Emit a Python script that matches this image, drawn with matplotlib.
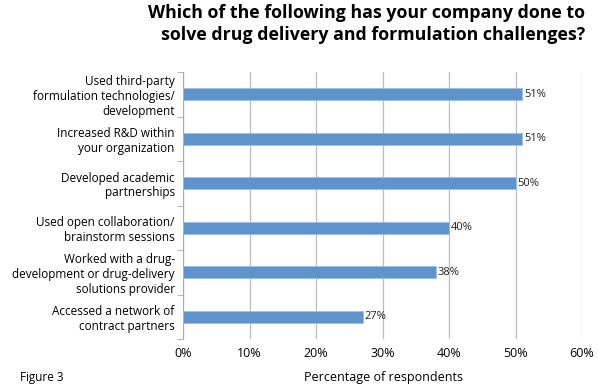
import numpy as np
import matplotlib.pyplot as plt

plt.rcParams['font.family'] = ['Open Sans', 'DejaVu Sans']

# answers, top to bottom
labels = [
    "Used third-party\nformulation technologies/\ndevelopment",
    "Increased R&D within\nyour organization",
    "Developed academic\npartnerships",
    "Used open collaboration/\nbrainstorm sessions",
    "Worked with a drug-\ndevelopment or drug-delivery\nsolutions provider",
    "Accessed a network of\ncontract partners",
]
values = [51, 51, 50, 40, 38, 27]
ticks = [0, 10, 20, 30, 40, 50, 60]

fig = plt.figure(figsize=(5.98, 3.84), dpi=100)
ax = fig.add_axes([183 / 598, 1 - 339 / 384, 399 / 598, 267 / 384])

y = np.arange(len(values))[::-1]
ax.barh(y, values, height=0.28, color='#5f93cc', edgecolor='#9dc0e6', linewidth=0.6, zorder=3)
for yi, v in zip(y, values):
    ax.text(v + 0.3, yi, f"{v}%", va='center', ha='left', fontsize=8, color='#222222')

ax.set_xlim(0, 60)
ax.set_ylim(-0.5, len(values) - 0.5)
ax.set_xticks(ticks)
ax.set_xticklabels([f"{t}%" for t in ticks], fontsize=9)
ax.tick_params(axis='x', length=0, pad=6)
ax.grid(axis='x', color='#bbbbbb', linewidth=0.9, zorder=0)

ax.set_yticks(y)
ax.set_yticklabels(labels, fontsize=8.5, linespacing=1.15)
ax.tick_params(axis='y', length=0, pad=6)
ax.set_yticks(np.arange(-0.5, len(values)), minor=True)
ax.tick_params(axis='y', which='minor', length=4, color='#aaaaaa', direction='out')

for s in ['top', 'right', 'bottom']:
    ax.spines[s].set_visible(False)
ax.spines['left'].set_color('#aaaaaa')

fig.text(0.978, 0.99, "Which of the following has your company done to\nsolve drug delivery and formulation challenges?",
         ha='right', va='top', fontsize=12.8, fontweight='bold', linespacing=1.3)
fig.text(20 / 598, 1 - 377 / 384, "Figure 3", ha='left', va='center', fontsize=8.5)
fig.text(383 / 598, 1 - 377 / 384, "Percentage of respondents", ha='center', va='center', fontsize=9)

fig.savefig('out.png', dpi=100)
